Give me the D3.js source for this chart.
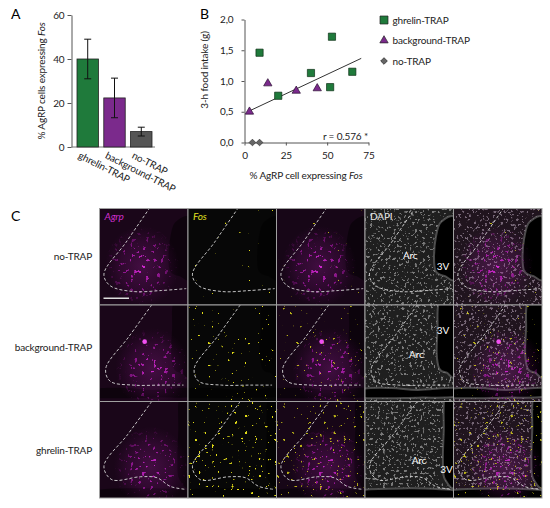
<!DOCTYPE html>
<html>
<head>
<meta charset="utf-8">
<script src="https://cdn.jsdelivr.net/npm/d3@7"></script>
<style>
  body { margin: 0; background: #fff; }
  text { font-family: Lato, "Open Sans", sans-serif; letter-spacing: -0.15px; }
</style>
</head>
<body>
<div class="canvas"></div>
<script>
// ---- panel A data
const groups = ['ghrelin-TRAP', 'background-TRAP', 'no-TRAP'];
const fosPercent = [40, 22.3, 7];
const fosSem = [9, 9, 2];
const groupColors = ['#1f7a3b', '#7b2a8c', '#555555'];
const yTicksA = [0, 20, 40, 60];

// ---- panel B data
const ghrelinX = [9.1, 20.4, 40.2, 52.9, 51.8, 65.2];
const ghrelinY = [1.46, 0.76, 1.13, 1.72, 0.90, 1.15];
const backgroundX = [3.0, 14.1, 31.3, 44.0];
const backgroundY = [0.50, 0.96, 0.84, 0.88];
const noTrapX = [4.8, 9.1];
const noTrapY = [0, 0];
const trendX = [3, 70.6];
const trendY = [0.514, 1.368];
const yTicksB = [0, 0.5, 1, 1.5, 2];
const xTicksB = [0, 25, 50, 75];
const legendB = ['ghrelin-TRAP', 'background-TRAP', 'no-TRAP'];

// ---- panel C
const conditions = ['no-TRAP', 'background-TRAP', 'ghrelin-TRAP'];
const channels = ['Agrp', 'Fos', 'merge', 'DAPI', 'merge-DAPI'];
const headers = ['Agrp', 'Fos', '', 'DAPI', ''];

const svg = d3.select('.canvas')
    .append('svg')
    .attr('width', 550)
    .attr('height', 508);
const defs = svg.append('defs');

const comma = d => d3.format('.1f')(d).replace('.', ',');
const fs = 10;

function styleAxis(g) {
    g.select('.domain').attr('stroke', '#555');
    g.selectAll('.tick line').attr('stroke', '#555');
    g.selectAll('.tick text').attr('fill', '#222').attr('font-size', fs)
        .attr('font-family', 'Lato, "Open Sans", sans-serif');
}

// panel letters
svg.append('text').attr('x', 11).attr('y', 19).attr('font-size', 14).text('A');
svg.append('text').attr('x', 200).attr('y', 19).attr('font-size', 14).text('B');
svg.append('text').attr('x', 11).attr('y', 221).attr('font-size', 14).text('C');

// ================= panel A: bar chart
const yA = d3.scaleLinear().domain([0, 60]).range([147, 15]);
const xA = d3.scaleBand().domain(groups).range([77, 152]).paddingInner(0.2);
const gA = svg.append('g');

gA.append('g')
    .attr('transform', 'translate(71.5,0)')
    .call(d3.axisLeft(yA).tickValues(yTicksA).tickSize(4).tickSizeOuter(0).tickPadding(3))
    .call(styleAxis);

gA.append('line')
    .attr('x1', 71.5).attr('x2', 155)
    .attr('y1', yA(0)).attr('y2', yA(0))
    .attr('stroke', '#777');

gA.selectAll('.bar')
    .data(groups)
    .join('rect')
    .attr('class', 'bar')
    .attr('x', d => xA(d))
    .attr('y', (d, i) => yA(fosPercent[i]))
    .attr('width', xA.bandwidth())
    .attr('height', (d, i) => yA(0) - yA(fosPercent[i]))
    .attr('fill', (d, i) => groupColors[i])
    .attr('stroke', '#222')
    .attr('stroke-width', 0.8);

// error bars
const err = gA.selectAll('.err')
    .data(groups)
    .join('g')
    .attr('class', 'err')
    .attr('stroke', '#111')
    .attr('stroke-width', 1);
err.append('line')
    .attr('x1', d => xA(d) + xA.bandwidth() / 2)
    .attr('x2', d => xA(d) + xA.bandwidth() / 2)
    .attr('y1', (d, i) => yA(fosPercent[i] - fosSem[i]))
    .attr('y2', (d, i) => yA(fosPercent[i] + fosSem[i]));
[-1, 1].forEach(s => {
    err.append('line')
        .attr('x1', d => xA(d) + xA.bandwidth() / 2 - 3.5)
        .attr('x2', d => xA(d) + xA.bandwidth() / 2 + 3.5)
        .attr('y1', (d, i) => yA(fosPercent[i] + s * fosSem[i]))
        .attr('y2', (d, i) => yA(fosPercent[i] + s * fosSem[i]));
});

gA.selectAll('.xlab')
    .data(groups)
    .join('text')
    .attr('class', 'xlab')
    .attr('transform', d => `translate(${xA(d) + 4},151) rotate(27)`)
    .attr('dy', '0.75em')
    .attr('font-size', fs)
    .attr('fill', '#222')
    .text(d => d);

const titleA = gA.append('text')
    .attr('transform', 'translate(45,81) rotate(-90)')
    .attr('text-anchor', 'middle')
    .attr('font-size', fs)
    .attr('fill', '#222');
titleA.append('tspan').text('% AgRP cells expressing ');
titleA.append('tspan').attr('font-style', 'italic').text('Fos');

// ================= panel B: scatter
const xB = d3.scaleLinear().domain([0, 75]).range([244.5, 368.5]);
const yB = d3.scaleLinear().domain([0, 2]).range([142.5, 19.5]);
const gB = svg.append('g');

gB.append('g')
    .attr('transform', 'translate(244.5,0)')
    .call(d3.axisLeft(yB).tickValues(yTicksB).tickFormat(comma).tickSize(3).tickSizeOuter(0).tickPadding(8))
    .call(styleAxis);
gB.append('g')
    .attr('transform', 'translate(0,142.5)')
    .call(d3.axisBottom(xB).tickValues(xTicksB).tickSize(3).tickSizeOuter(0).tickPadding(6))
    .call(styleAxis);

gB.append('line')
    .attr('x1', xB(trendX[0])).attr('y1', yB(trendY[0]))
    .attr('x2', xB(trendX[1])).attr('y2', yB(trendY[1]))
    .attr('stroke', '#333')
    .attr('stroke-width', 1);

const sq = d3.symbol(d3.symbolSquare, 52);
const tri = d3.symbol(d3.symbolTriangle, 30);
const dia = d3.symbol(d3.symbolSquare, 22);

gB.selectAll('.bg')
    .data(backgroundX)
    .join('path')
    .attr('class', 'bg')
    .attr('d', tri)
    .attr('transform', (d, i) => `translate(${xB(d)},${yB(backgroundY[i])})`)
    .attr('fill', '#7b2a8c').attr('stroke', '#2a0f30').attr('stroke-width', 0.7);
gB.selectAll('.gh')
    .data(ghrelinX)
    .join('path')
    .attr('class', 'gh')
    .attr('d', sq)
    .attr('transform', (d, i) => `translate(${xB(d)},${yB(ghrelinY[i])})`)
    .attr('fill', '#1f7a3b').attr('stroke', '#0d2e16').attr('stroke-width', 0.7);
gB.selectAll('.nt')
    .data(noTrapX)
    .join('path')
    .attr('class', 'nt')
    .attr('d', dia)
    .attr('transform', (d, i) => `translate(${xB(d)},${yB(noTrapY[i])}) rotate(45)`)
    .attr('fill', '#666').attr('stroke', '#333').attr('stroke-width', 0.7);

gB.append('text')
    .attr('x', 368).attr('y', 139.5)
    .attr('text-anchor', 'end')
    .attr('font-size', fs)
    .attr('fill', '#222')
    .text('r = 0.576 *');

const titleBx = gB.append('text')
    .attr('x', 306).attr('y', 178.5)
    .attr('text-anchor', 'middle')
    .attr('font-size', fs)
    .attr('fill', '#222');
titleBx.append('tspan').text('% AgRP cell expressing ');
titleBx.append('tspan').attr('font-style', 'italic').text('Fos');

gB.append('text')
    .attr('transform', 'translate(208,70) rotate(-90)')
    .attr('text-anchor', 'middle')
    .attr('font-size', fs)
    .attr('fill', '#222')
    .text('3-h food intake (g)');

// legend
const legY = d3.scalePoint().domain(legendB).range([20, 61]);
const legSym = [d3.symbol(d3.symbolSquare, 64), tri, dia];
const legFill = ['#1f7a3b', '#7b2a8c', '#666'];
const leg = gB.selectAll('.leg')
    .data(legendB)
    .join('g')
    .attr('class', 'leg')
    .attr('transform', d => `translate(384,${legY(d)})`);
leg.append('path')
    .attr('d', (d, i) => legSym[i]())
    .attr('transform', (d, i) => i === 2 ? 'rotate(45)' : null)
    .attr('fill', (d, i) => legFill[i])
    .attr('stroke', '#222').attr('stroke-width', 0.7);
leg.append('text')
    .attr('x', 8.5).attr('dy', '0.35em')
    .attr('font-size', fs)
    .attr('fill', '#222')
    .text(d => d);

// ================= panel C: image grid
const xC = d3.scaleBand().domain(channels).range([99.5, 542]);
const yC = d3.scaleBand().domain(conditions).range([208.5, 498]);
const pw = xC.bandwidth(), ph = yC.bandwidth();

defs.append('clipPath').attr('id', 'pclip')
    .append('rect').attr('width', pw).attr('height', ph);

// procedural speckle filter (used as an image texture)
function speckle(id, freq, cut, seed, k) {
    const f = defs.append('filter').attr('id', id)
        .attr('x', 0).attr('y', 0).attr('width', 1).attr('height', 1)
        .attr('color-interpolation-filters', 'sRGB');
    f.append('feTurbulence').attr('type', 'fractalNoise')
        .attr('baseFrequency', freq).attr('numOctaves', 2)
        .attr('seed', seed).attr('result', 'noise');
    f.append('feGaussianBlur').attr('in', 'noise').attr('stdDeviation', 0.5).attr('result', 'soft');
    f.append('feColorMatrix').attr('in', 'soft').attr('type', 'matrix')
        .attr('values', `0 0 0 0 0  0 0 0 0 0  0 0 0 0 0  ${k} 0 0 0 ${-k * cut}`)
        .attr('result', 'mask');
    f.append('feComposite').attr('in', 'SourceGraphic').attr('in2', 'mask').attr('operator', 'in');
}

const fosCut = [0.8, 0.75, 0.71];
const magCenter = [[0.48, 0.6], [0.6, 0.66], [0.58, 0.68]];
conditions.forEach((c, r) => {
    speckle(`cells${r}`, 0.26, 0.65, 3 + r, 20);
    speckle(`fos${r}`, 0.3, fosCut[r], 11 + r, 20);
    speckle(`dapi${r}`, 0.38, 0.605, 21 + r, 14);
    const gr = defs.append('radialGradient').attr('id', `mag${r}`)
        .attr('cx', magCenter[r][0]).attr('cy', magCenter[r][1]).attr('r', 0.42);
    gr.append('stop').attr('offset', 0).attr('stop-color', '#d52ad5').attr('stop-opacity', 1);
    gr.append('stop').attr('offset', 0.6).attr('stop-color', '#b41cb4').attr('stop-opacity', 0.6);
    gr.append('stop').attr('offset', 1).attr('stop-color', '#901090').attr('stop-opacity', 0);
});

// dashed Arc outlines and ventricle shapes, in panel fractions
const outlines = [
    [[0.57, -0.01], [0.3, 0.35], [0.05, 0.68], [0.12, 0.8], [0.38, 0.86], [0.7, 0.85], [0.98, 0.83]],
    [[0.59, 0.0], [0.33, 0.33], [0.07, 0.66], [0.12, 0.79], [0.38, 0.83], [0.7, 0.83], [0.95, 0.83]],
    [[0.59, 0.0], [0.32, 0.34], [0.05, 0.67], [0.14, 0.81], [0.46, 0.78], [0.65, 0.79], [0.8, 0.88], [0.97, 0.91]]
];
const ventricles = [
    [[[1.03, 0.12], [0.86, 0.14], [0.8, 0.3], [0.78, 0.5], [0.8, 0.65], [0.9, 0.7], [1.03, 0.7]]],
    [[[1.03, -0.03], [0.84, -0.03], [0.82, 0.25], [0.81, 0.5], [0.84, 0.66], [0.92, 0.7], [1.03, 0.7]],
     [[-0.03, 0.87], [0.3, 0.86], [0.6, 0.88], [1.03, 0.86], [1.03, 0.95], [0.6, 0.96], [-0.03, 0.96]]],
    [[[1.03, -0.03], [0.9, -0.03], [0.89, 0.3], [0.88, 0.6], [0.9, 0.8], [1.03, 0.84]],
     [[-0.03, 0.92], [0.5, 0.9], [0.85, 0.91], [1.03, 0.93], [1.03, 1.03], [-0.03, 1.03]]]
];
const anatomy = [
    [['Arc', 0.51, 0.49], ['3V', 0.88, 0.6]],
    [['3V', 0.88, 0.26], ['Arc', 0.58, 0.51]],
    [['Arc', 0.61, 0.61], ['3V', 0.92, 0.7]]
];
const rowLabelShift = [0, -6, 1];
const baseFill = ['#1a0619', '#070707', '#170617', '#1f1f1f', '#20141e'];

const outlinePath = d3.line().x(p => p[0] * pw).y(p => p[1] * ph).curve(d3.curveCatmullRom);
const blobPath = d3.line().x(p => p[0] * pw).y(p => p[1] * ph).curve(d3.curveCardinalClosed);

conditions.forEach((cond, r) => {
    channels.forEach((ch, c) => {
        const g = svg.append('g').attr('transform', `translate(${xC(ch)},${yC(cond)})`);
        const inner = g.append('g').attr('clip-path', 'url(#pclip)');
        inner.append('rect').attr('width', pw).attr('height', ph).attr('fill', baseFill[c]);

        if (c >= 3) {
            inner.append('rect').attr('width', pw).attr('height', ph)
                .attr('fill', c === 3 ? '#7a7a7a' : '#766676')
                .attr('filter', `url(#dapi${r})`);
        }
        ventricles[r].forEach(v => {
            inner.append('path')
                .attr('d', blobPath(v))
                .attr('fill', '#000')
                .attr('stroke', c >= 3 ? '#777' : 'none')
                .attr('stroke-width', 2)
                .attr('stroke-opacity', 0.6)
                .attr('opacity', c >= 3 ? 1 : 0.45);
        });

        if (c === 0 || c === 2 || c === 4) {
            inner.append('rect').attr('width', pw).attr('height', ph)
                .attr('fill', `url(#mag${r})`).attr('opacity', 0.22);
            inner.append('rect').attr('width', pw).attr('height', ph)
                .attr('fill', `url(#mag${r})`)
                .attr('filter', `url(#cells${r})`);
            if (r === 1) {
                inner.append('circle').attr('cx', 0.51 * pw).attr('cy', 0.38 * ph)
                    .attr('r', 2.3).attr('fill', '#f050f0');
            }
        }
        if (c === 1 || c === 2 || c === 4) {
            inner.append('rect').attr('width', pw).attr('height', ph)
                .attr('fill', '#e2dc18')
                .attr('opacity', c === 1 ? 1 : 0.8)
                .attr('filter', `url(#fos${r})`);
        }

        inner.append('path')
            .attr('d', outlinePath(outlines[r]))
            .attr('fill', 'none')
            .attr('stroke', '#d8d8d8')
            .attr('stroke-width', 0.9)
            .attr('stroke-dasharray', '3,2');

        if (c === 3) {
            anatomy[r].forEach(a => {
                inner.append('text')
                    .attr('x', a[1] * pw).attr('y', a[2] * ph)
                    .attr('text-anchor', 'middle').attr('dy', '0.35em')
                    .attr('font-size', fs).attr('fill', '#fff')
                    .text(a[0]);
            });
        }
        if (r === 0 && headers[c]) {
            inner.append('text')
                .attr('x', 5).attr('y', 11)
                .attr('font-size', fs)
                .attr('font-style', c < 2 ? 'italic' : 'normal')
                .attr('fill', ['#d030d0', '#e0e020', '', '#e8e8e8'][c])
                .text(headers[c]);
        }
        if (r === 0 && c === 0) {
            inner.append('line')
                .attr('x1', 4).attr('x2', 29.5)
                .attr('y1', 0.93 * ph).attr('y2', 0.93 * ph)
                .attr('stroke', '#ddd').attr('stroke-width', 1.5);
        }

        g.append('rect').attr('width', pw).attr('height', ph)
            .attr('fill', 'none').attr('stroke', '#a0a0a0').attr('stroke-width', 1);
    });

    svg.append('text')
        .attr('x', 92)
        .attr('y', yC(cond) + ph / 2 + rowLabelShift[r])
        .attr('dy', '0.35em')
        .attr('text-anchor', 'end')
        .attr('font-size', fs)
        .attr('fill', '#222')
        .text(cond);
});
</script>
</body>
</html>
